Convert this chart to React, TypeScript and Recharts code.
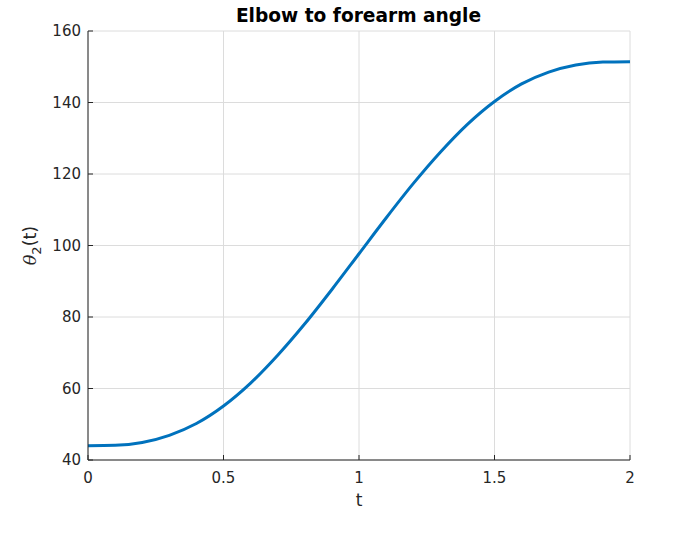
import React from "react";
import {
  LineChart,
  Line,
  XAxis,
  YAxis,
  CartesianGrid,
} from "recharts";

// time samples (s) and elbow angle (deg)
const TIME = [0, 0.1, 0.2, 0.3, 0.4, 0.5, 0.6, 0.7, 0.8, 0.9, 1.0, 1.1, 1.2, 1.3, 1.4, 1.5, 1.6, 1.7, 1.8, 1.9, 2.0];
const THETA2 = [44.0, 44.1, 44.9, 46.9, 50.2, 55.1, 61.5, 69.3, 78.1, 87.7, 97.7, 107.7, 117.3, 126.1, 133.9, 140.3, 145.2, 148.5, 150.5, 151.3, 151.4];

const X_TICKS = [0, 0.5, 1, 1.5, 2];
const Y_TICKS = [40, 60, 80, 100, 120, 140, 160];

const TITLE = "Elbow to forearm angle";
const X_LABEL = "t";

const AXIS_COLOR = "#262626";
const FONT = "'DejaVu Sans', sans-serif";

const data = TIME.map((t, i) => ({ t, theta: THETA2[i] }));

const YLabel = (props: any) => {
  const { viewBox } = props;
  const cy = viewBox.y + viewBox.height / 2;
  const cx = 36;
  return (
    <text
      x={cx}
      y={cy}
      transform={`rotate(-90, ${cx}, ${cy})`}
      textAnchor="middle"
      fill={AXIS_COLOR}
      fontSize={17.5}
      fontFamily={FONT}
    >
      <tspan fontStyle="italic" fontFamily="'DejaVu Serif', serif">θ</tspan>
      <tspan dy={5} fontSize={13}>2</tspan>
      <tspan dy={-5}>(t)</tspan>
    </text>
  );
};

export default function App() {
  return (
    <div style={{ position: "absolute", left: 0, top: 0, width: 680, height: 541, background: "#fff" }}>
      <LineChart
        width={680}
        height={541}
        data={data}
        margin={{ top: 31, right: 50, bottom: 0, left: 0 }}
      >
        <text
          x={358.5}
          y={22}
          textAnchor="middle"
          fontFamily={FONT}
          fontWeight="bold"
          fontSize={18.6}
          fill="#000"
        >
          {TITLE}
        </text>
        <CartesianGrid xAxisId="b" yAxisId="l" stroke="#dcdcdc" strokeWidth={1} />
        <XAxis
          xAxisId="b"
          dataKey="t"
          type="number"
          domain={[0, 2]}
          ticks={X_TICKS}
          height={81}
          tickSize={-5}
          tickMargin={17}
          stroke={AXIS_COLOR}
          tick={{ fill: AXIS_COLOR, fontSize: 15, fontFamily: FONT }}
          label={{ value: X_LABEL, position: "insideTop", offset: 34, fill: AXIS_COLOR, fontSize: 17, fontFamily: FONT }}
        />
        <XAxis
          xAxisId="t"
          orientation="top"
          dataKey="t"
          type="number"
          domain={[0, 2]}
          ticks={X_TICKS}
          height={0}
          tickSize={-5}
          tick={false}
          stroke={AXIS_COLOR}
        />
        <YAxis
          yAxisId="l"
          type="number"
          domain={[40, 160]}
          ticks={Y_TICKS}
          width={88}
          tickSize={-5}
          tickMargin={12}
          stroke={AXIS_COLOR}
          tick={{ fill: AXIS_COLOR, fontSize: 15, fontFamily: FONT }}
          label={<YLabel />}
        />
        <YAxis
          yAxisId="r"
          orientation="right"
          type="number"
          domain={[40, 160]}
          ticks={Y_TICKS}
          width={0}
          tickSize={-5}
          tick={false}
          stroke={AXIS_COLOR}
        />
        <Line
          xAxisId="b"
          yAxisId="l"
          dataKey="theta"
          type="monotone"
          stroke="#0072BD"
          strokeWidth={3}
          dot={false}
          isAnimationActive={false}
        />
      </LineChart>
    </div>
  );
}
